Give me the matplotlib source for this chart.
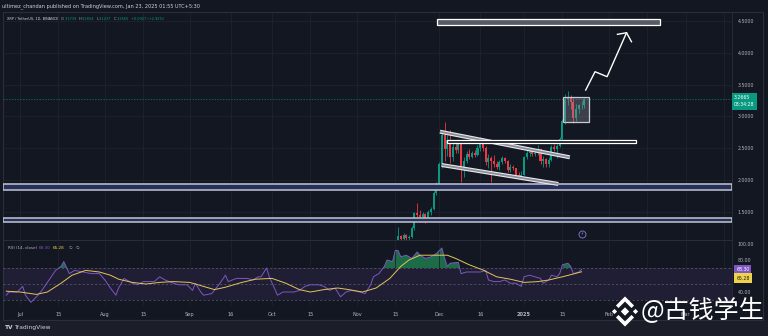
import numpy as np
import pandas as pd
import matplotlib.pyplot as plt
import matplotlib.dates as mdates
from matplotlib.patches import Rectangle, Polygon

plt.rcParams['font.family'] = ['DejaVu Sans']

W, H = 768, 336
BG = '#131722'
GRID = '#1e222d'
TXT = '#b2b5be'
UP = '#089981'
DOWN = '#f23645'
RSI_C = '#7e57c2'
MA_C = '#e3c55a'

# XRP/USDT daily candles, starting 2024-11-14
candle_start = '2024-11-14'
opens = [0.70, 0.76, 0.90, 1.12, 1.07, 1.13, 1.09, 1.10, 1.25, 1.48, 1.45, 1.42, 1.46, 1.39, 1.49, 1.54, 1.80,
         1.94, 2.25, 2.70, 2.48, 2.63, 2.36, 2.52, 2.47, 2.58, 2.20, 2.30, 2.40, 2.36, 2.43, 2.39, 2.50,
         2.62, 2.50, 2.28, 2.34, 2.30, 2.25, 2.21, 2.28, 2.34, 2.30, 2.16, 2.20, 2.18, 2.08, 2.05,
         2.08, 2.36, 2.43, 2.46, 2.41, 2.43, 2.48, 2.29, 2.33, 2.25, 2.32, 2.52, 2.49, 2.53, 2.64, 2.93,
         3.27, 3.30, 3.22, 2.98, 3.12, 3.17, 3.1739]
highs = [0.80, 0.92, 1.26, 1.14, 1.16, 1.15, 1.13, 1.28, 1.50, 1.63, 1.52, 1.50, 1.48, 1.52, 1.57, 1.83, 1.97,
         2.28, 2.78, 2.91, 2.70, 2.78, 2.60, 2.58, 2.62, 2.60, 2.36, 2.45, 2.48, 2.46, 2.47, 2.55, 2.68,
         2.66, 2.54, 2.40, 2.38, 2.39, 2.29, 2.31, 2.37, 2.36, 2.32, 2.25, 2.24, 2.19, 2.13, 2.14,
         2.37, 2.47, 2.50, 2.48, 2.45, 2.55, 2.49, 2.37, 2.35, 2.36, 2.55, 2.57, 2.56, 2.68, 2.96, 3.35,
         3.40, 3.34, 3.28, 3.20, 3.20, 3.24, 3.2854]
lows = [0.68, 0.74, 0.89, 1.03, 1.04, 1.06, 1.05, 1.08, 1.22, 1.42, 1.38, 1.36, 1.33, 1.37, 1.45, 1.52, 1.76,
        1.89, 2.18, 2.30, 2.38, 2.26, 2.30, 2.42, 2.43, 1.96, 2.05, 2.26, 2.33, 2.34, 2.36, 2.37, 2.46,
        2.45, 2.24, 2.18, 1.96, 2.20, 2.17, 2.16, 2.25, 2.26, 2.12, 2.12, 2.15, 2.06, 2.01, 2.03,
        2.07, 2.33, 2.38, 2.38, 2.37, 2.39, 2.25, 2.20, 2.21, 2.20, 2.30, 2.46, 2.35, 2.51, 2.62, 2.88,
        3.18, 3.12, 2.89, 2.92, 3.05, 3.12, 3.1237]
closes = [0.76, 0.90, 1.12, 1.07, 1.13, 1.09, 1.10, 1.25, 1.48, 1.45, 1.42, 1.46, 1.39, 1.49, 1.54, 1.80, 1.94,
          2.25, 2.70, 2.48, 2.63, 2.36, 2.52, 2.47, 2.58, 2.20, 2.30, 2.40, 2.36, 2.43, 2.39, 2.50, 2.62,
          2.50, 2.28, 2.34, 2.30, 2.25, 2.21, 2.28, 2.34, 2.30, 2.16, 2.20, 2.18, 2.08, 2.05, 2.08,
          2.36, 2.43, 2.46, 2.41, 2.43, 2.48, 2.29, 2.33, 2.25, 2.32, 2.52, 2.49, 2.53, 2.64, 2.93, 3.27,
          3.30, 3.22, 2.98, 3.12, 3.17, 3.1738, 3.2665]

# RSI(14) and its MA, x in days from 2024-07-01
day0 = '2024-07-01'
rsi_days = [-5, -4, -1, 1, 2, 4, 6, 8, 11, 13, 15, 16, 18, 20, 23, 26, 29, 31, 33, 35, 36, 38, 41, 43, 45,
            49, 51, 53, 56, 58, 61, 63, 64, 66, 67, 70, 73, 75, 76, 79, 83, 85, 87, 88, 90, 91, 94, 96,
            100, 102, 104, 106, 109, 111, 113, 115, 117, 119, 121, 124, 126, 128, 129, 131, 133, 134, 136,
            137, 138, 139, 141, 143, 145, 146, 148, 150, 152, 154, 155, 156, 157, 160, 161, 163, 168, 170,
            171, 173, 175, 177, 179, 181, 183, 184, 186, 188, 190, 191, 193, 194, 196, 197, 198, 200, 201,
            202, 204, 205]
rsi_vals = [36, 40, 40, 47, 36, 27, 34, 42, 57, 67, 72, 78, 63, 67, 65, 63, 63, 55, 45, 36, 45, 57, 51, 49, 53,
            53, 59, 55, 51, 49, 49, 42, 51, 40, 36, 38, 51, 61, 53, 57, 57, 55, 59, 59, 70, 59, 36, 40,
            40, 42, 47, 49, 49, 47, 42, 45, 34, 40, 42, 40, 38, 49, 59, 63, 72, 80, 78,
            92, 92, 84, 86, 82, 90, 86, 82, 84, 88, 95, 82, 72, 76, 77, 63, 65, 65, 67,
            55, 53, 53, 55, 51, 51, 47, 59, 61, 59, 57, 51, 55, 61, 59, 63, 74, 76, 72,
            63, 65, 68.30]
ma_days = [-5, 0, 6, 10, 15, 19, 24, 29, 33, 36, 41, 46, 51, 56, 62, 67, 71, 75, 81, 86, 92, 97, 102, 106,
           111, 116, 120, 125, 130, 135, 139, 142, 146, 150, 153, 156, 159, 164, 169, 174, 179, 184, 189,
           193, 198, 202, 205]
ma_vals = [41, 40, 37, 40, 51, 61, 67, 65, 61, 56, 52, 50, 52, 53, 52, 47, 43, 46, 52, 56, 57, 51, 43, 40,
           43, 45, 43, 40, 45, 57, 72, 80, 86, 86, 86, 86, 82, 74, 67.5, 59, 56, 52, 53,
           55, 59, 62.5, 65.28]

# month / mid-month grid; the last two labels sit under the handle so they stay blank
date_ticks = ['2024-07-01', '2024-07-15', '2024-08-01', '2024-08-15', '2024-09-01', '2024-09-16',
              '2024-10-01', '2024-10-15', '2024-11-01', '2024-11-15', '2024-12-01', '2024-12-16',
              '2025-01-01', '2025-01-15', '2025-02-01', '2025-02-15', '2025-03-01', '2025-03-15']
date_labels = ['Jul', '15', 'Aug', '15', 'Sep', '16', 'Oct', '15', 'Nov', '15', 'Dec', '16',
               '2025', '15', 'Feb', '', 'Mar', '']
price_ticks = [1.5, 2.0, 2.5, 3.0, 3.5, 4.0, 4.5]
rsi_ticks = [40, 80, 100]

# user drawings: (days from 2024-07-01, price)
zones = [(1.845, 1.935), (1.345, 1.395)]
channel = [[(153.3, 2.758), (200.7, 2.355)], [(153.9, 2.234), (196.5, 1.936)]]
resistance = (155.7, 224.8, 2.585, 2.627)
last_box = (198.3, 207.7, 2.906, 3.308)
target_box = (152.2, 233.6, 4.44, 4.525)
arrow_path = [(206.5, 3.413), (209.9, 3.701), (214.3, 3.623), (221.4, 4.314)]
arrow_head = [(218.1, 4.289), (221.4, 4.314), (223.2, 4.173)]
event_mark = (205, 1.149)

base = mdates.date2num(pd.Timestamp(day0))


def px(x0, y0, x1, y1):
    return [x0 / W, 1 - y1 / H, (x1 - x0) / W, (y1 - y0) / H]


def text_row(axis, x, y, parts, size):
    # write parts one after another, each starting where the last one ended
    s, col = parts[0][:2]
    t = axis.text(x, y, s, fontsize=size, color=col, va='center')
    for s, col, gap in parts[1:]:
        t = axis.annotate(s, xy=(1, 0.5), xycoords=t, xytext=(gap, 0), textcoords='offset points',
                          va='center', ha='left', fontsize=size, color=col)
    return t


fig = plt.figure(figsize=(W / 100, H / 100), dpi=100, facecolor=BG)

bg = fig.add_axes([0, 0, 1, 1], zorder=-10)
bg.set_xlim(0, W)
bg.set_ylim(H, 0)
bg.axis('off')
bg.add_patch(Rectangle((0, 0), W, H, color=BG))
bg.add_patch(Rectangle((0, 320), W, 16, color='#1b1e28'))
bg.add_patch(Rectangle((3, 12), 760, 308, fill=False, ec='#2a2e39', lw=0.8))

ax = fig.add_axes(px(3, 12, 732, 240))
ax2 = fig.add_axes(px(3, 240, 732, 306), sharex=ax)
for a in (ax, ax2):
    a.set_facecolor('none')
    for s in a.spines.values():
        s.set_color('#2a2e39')
        s.set_linewidth(0.6)
    a.grid(axis='x', color=GRID, lw=0.6)
ax.spines['left'].set_visible(False)
ax2.spines['left'].set_visible(False)
ax2.spines['bottom'].set_visible(False)

xlo, xhi = base - 6.2, base + 259.9
ax.set_xlim(xlo, xhi)
ax.set_ylim(1.055, 4.64)
ax2.set_ylim(22.5, 105)

# candles
x = mdates.date2num(pd.date_range(candle_start, periods=len(opens)))
o, h, l, c = map(np.array, (opens, highs, lows, closes))
cols = np.where(c >= o, UP, DOWN)
ax.vlines(x, l, h, colors=cols, lw=0.6, zorder=3)
ax.bar(x, np.maximum(np.abs(c - o), 0.008), bottom=np.minimum(o, c), width=0.74,
       color=cols, zorder=3)
ax.axhline(c[-1], color=UP, lw=0.5, ls=(0, (2, 2)), alpha=0.8, zorder=2)

# horizontal support zones
for lo, hi in zones:
    ax.add_patch(Rectangle((xlo, lo), xhi - xlo, hi - lo, fc='#26305a', ec='#c3c6d0', lw=1.1, zorder=4))

# falling channel
for seg in channel:
    sx = [base + p[0] for p in seg]
    sy = [p[1] for p in seg]
    ax.plot(sx, sy, color='#e8e9ee', lw=2.9, solid_capstyle='butt', zorder=5)
    ax.plot(sx, sy, color='#8a8d97', lw=1.3, solid_capstyle='butt', zorder=5)

d0, d1, p0, p1 = resistance
ax.add_patch(Rectangle((base + d0, p0), d1 - d0, p1 - p0, fc=BG, ec='white', lw=0.9, zorder=5))
d0, d1, p0, p1 = last_box
ax.add_patch(Rectangle((base + d0, p0), d1 - d0, p1 - p0, fc=(0.55, 0.56, 0.6, 0.35), ec='#c8cad2',
                       lw=0.9, zorder=5))
d0, d1, p0, p1 = target_box
ax.add_patch(Rectangle((base + d0, p0), d1 - d0, p1 - p0, fc='#585b66', ec='white', lw=0.9, zorder=5))
ax.plot([base + p[0] for p in arrow_path], [p[1] for p in arrow_path], color='white', lw=1.0, zorder=5)
ax.plot([base + p[0] for p in arrow_head], [p[1] for p in arrow_head], color='white', lw=1.0, zorder=5)

ax.plot(base + event_mark[0], event_mark[1], 'o', ms=5, mfc='none', mec='#7b6fc0', mew=0.7, zorder=5)
ax.text(base + event_mark[0], event_mark[1], '⚡', fontsize=3, color='#9d93d8', ha='center', va='center', zorder=6)

ax.yaxis.tick_right()
ax.set_yticks(price_ticks)
ax.yaxis.set_major_formatter(plt.FormatStrFormatter('%.4f'))
ax.tick_params(axis='y', length=0, pad=4, labelsize=3.4, labelcolor=TXT)
ax.tick_params(axis='x', length=0, labelbottom=False)
ax.grid(axis='y', color=GRID, lw=0.6)

ax.annotate(f'{c[-1]:.4f}\n03:34:28', xy=(1, c[-1]), xycoords=ax.get_yaxis_transform(),
            xytext=(1.5, 2.8), textcoords='offset points', ha='left', va='top', fontsize=3.3,
            color='white', linespacing=1.5, annotation_clip=False,
            bbox=dict(boxstyle='square,pad=0.5', fc=UP, ec='none'))

# RSI pane
rx = base + np.array(rsi_days, dtype=float)
rv = np.array(rsi_vals, dtype=float)
ax2.axhspan(30, 70, color=RSI_C, alpha=0.12, lw=0)
for lev in (70, 50, 30):
    ax2.axhline(lev, color='#787b86', lw=0.5, ls=(0, (3, 3)), alpha=0.7)
ax2.fill_between(rx, rv, 70, where=rv >= 70, interpolate=True, color='#208a55', alpha=0.75, lw=0)
ax2.plot(rx, rv, color=RSI_C, lw=0.7)
ax2.plot(base + np.array(ma_days, dtype=float), ma_vals, color=MA_C, lw=0.7)

ax2.yaxis.tick_right()
ax2.set_yticks(rsi_ticks)
ax2.yaxis.set_major_formatter(plt.FormatStrFormatter('%.2f'))
ax2.tick_params(axis='y', length=0, pad=4, labelsize=3.4, labelcolor=TXT)
ax2.set_xticks([mdates.date2num(pd.Timestamp(t)) for t in date_ticks])
ax2.set_xticklabels(date_labels)
ax2.tick_params(axis='x', length=0, pad=4.5, labelsize=3.6, labelcolor=TXT)
for t in ax2.get_xticklabels():
    if t.get_text() == '2025':
        t.set_fontweight('bold')

ax2.annotate(f'{rsi_vals[-1]:.2f}', xy=(1, rsi_vals[-1]), xycoords=ax2.get_yaxis_transform(),
             xytext=(3, 0), textcoords='offset points', ha='left', va='center', fontsize=3.3,
             color='white', annotation_clip=False,
             bbox=dict(boxstyle='square,pad=0.45', fc=RSI_C, ec='none'))
ax2.annotate(f'{ma_vals[-1]:.2f}', xy=(1, ma_vals[-1]), xycoords=ax2.get_yaxis_transform(),
             xytext=(3, -4.5), textcoords='offset points', ha='left', va='center', fontsize=3.3,
             color='#131722', annotation_clip=False,
             bbox=dict(boxstyle='square,pad=0.45', fc='#f0d24a', ec='none'))

# header, legend and watermark
fg = fig.add_axes([0, 0, 1, 1], zorder=10)
fg.set_xlim(0, W)
fg.set_ylim(H, 0)
fg.axis('off')

fg.text(2, 6.5, 'ultimez_chandan published on TradingView.com, Jan 23, 2025 01:55 UTC+5:30',
        fontsize=3.6, color='#d1d4dc', va='center')

chg = c[-1] - c[-2]
text_row(fg, 7, 19.3, [('XRP / TetherUS, 1D, BINANCE', '#d1d4dc'),
                       ('O', TXT, 2.0), (f'{o[-1]:.4f}', UP, 0.3),
                       ('H', TXT, 1.6), (f'{h[-1]:.4f}', UP, 0.3),
                       ('L', TXT, 1.6), (f'{l[-1]:.4f}', UP, 0.3),
                       ('C', TXT, 1.6), (f'{c[-1]:.4f}', UP, 0.3),
                       (f'+{chg:.4f} (+{chg / c[-2] * 100:.2f}%)', UP, 1.6)], 2.5)

text_row(fg, 8, 248.3, [('RSI (14, close)', TXT), (f'{rsi_vals[-1]:.2f}', RSI_C, 1.5),
                        (f'{ma_vals[-1]:.2f}', '#f0d24a', 1.5), ('∅', TXT, 2.5), ('∅', TXT, 2.5)], 3.0)

fg.text(5, 327.8, 'TV', fontsize=4.2, color='#d1d4dc', va='center', fontweight='bold')
fg.text(14, 327.8, 'TradingView', fontsize=4.3, color='#d1d4dc', va='center')

# exchange mark + handle
logo = dict(fc='white', ec='none', zorder=11)
for cx, cy, r in [(625, 311.5, 4.2), (614.5, 311.5, 2.6), (635.5, 311.5, 2.6)]:
    fg.add_patch(Polygon([(cx, cy - r), (cx + r, cy), (cx, cy + r), (cx - r, cy)], **logo))
fg.plot([618.5, 625, 631.5], [305.5, 299, 305.5], color='white', lw=2.6, solid_joinstyle='miter')
fg.plot([618.5, 625, 631.5], [317.5, 324, 317.5], color='white', lw=2.6, solid_joinstyle='miter')
fg.text(641, 311, '@古钱学生', fontsize=18, color='white', va='center', ha='left',
        family=['Noto Sans CJK SC', 'DejaVu Sans'])

fig.savefig('out.png', dpi=100, facecolor=BG)
